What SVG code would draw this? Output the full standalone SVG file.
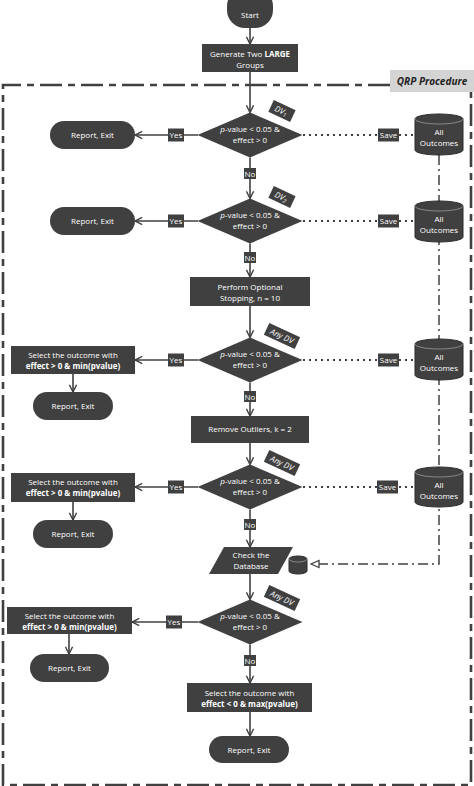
<svg xmlns="http://www.w3.org/2000/svg" width="474" height="786" viewBox="0 0 474 786">
<style>
.n{fill:#404040}
.t{font-family:"Open Sans","Liberation Sans",sans-serif;font-size:8px;fill:#fff;text-anchor:middle}
.b{font-weight:bold}
.i{font-style:italic}
.e{stroke:#404040;stroke-width:1.6;fill:none}
.dot{stroke:#404040;stroke-width:2;stroke-dasharray:2 4;fill:none}
.dd{stroke:#404040;stroke-width:1.5;stroke-dasharray:10 4 2 4;fill:none}
.cyl{fill:#404040;stroke:#2a2a2a;stroke-width:1}
.cylt{fill:none;stroke:#9a9a9a;stroke-width:0.8}
</style>
<defs>
<marker id="ah" viewBox="0 0 10 10" refX="9" refY="5" markerWidth="9" markerHeight="9" orient="auto" markerUnits="userSpaceOnUse"><path d="M1,1 L9,5 L1,9" fill="none" stroke="#404040" stroke-width="1.6"/></marker>
<marker id="tri" viewBox="0 0 10 10" refX="9" refY="5" markerWidth="10" markerHeight="10" orient="auto" markerUnits="userSpaceOnUse"><path d="M1,1.5 L9,5 L1,8.5 Z" fill="#fff" stroke="#404040" stroke-width="1.3"/></marker>
</defs>
<rect width="474" height="786" fill="#fff"/>

<g id="frame">
<path d="M390,85 H3 V785 H471 V92" fill="none" stroke="#404040" stroke-width="2.6" stroke-dasharray="22 6 7 6"/>
<rect x="390" y="70" width="84" height="22" fill="#d4d4d4"/>
<text x="432" y="85" style="font-family:'Open Sans','Liberation Sans',sans-serif;font-size:10px;font-weight:bold;font-style:italic;fill:#222;text-anchor:middle">QRP Procedure</text>
</g>

<g id="connectors">
<path class="dd" d="M439,155 V564 H311" marker-end="url(#tri)"/>
<line class="e" x1="250" y1="28" x2="250" y2="44" marker-end="url(#ah)"/>
<line class="e" x1="250" y1="72" x2="250" y2="112.5" marker-end="url(#ah)"/>
<line class="e" x1="250" y1="157.5" x2="250" y2="198.5" marker-end="url(#ah)"/>
<line class="e" x1="250" y1="243.5" x2="250" y2="277" marker-end="url(#ah)"/>
<line class="e" x1="250" y1="306" x2="250" y2="337.5" marker-end="url(#ah)"/>
<line class="e" x1="250" y1="382.5" x2="250" y2="416" marker-end="url(#ah)"/>
<line class="e" x1="250" y1="443" x2="250" y2="464.5" marker-end="url(#ah)"/>
<line class="e" x1="250" y1="509.5" x2="250" y2="547" marker-end="url(#ah)"/>
<line class="e" x1="250" y1="574" x2="250" y2="599.5" marker-end="url(#ah)"/>
<line class="e" x1="250" y1="644.5" x2="250" y2="683" marker-end="url(#ah)"/>
<line class="e" x1="250" y1="712" x2="250" y2="736" marker-end="url(#ah)"/>
<line class="e" x1="198" y1="135" x2="135" y2="135" marker-end="url(#ah)"/>
<line class="e" x1="198" y1="221" x2="135" y2="221" marker-end="url(#ah)"/>
<line class="e" x1="198" y1="360" x2="135" y2="360" marker-end="url(#ah)"/>
<line class="e" x1="198" y1="487" x2="135" y2="487" marker-end="url(#ah)"/>
<line class="e" x1="198" y1="622" x2="132" y2="622" marker-end="url(#ah)"/>
<line class="e" x1="73" y1="374" x2="73" y2="392" marker-end="url(#ah)"/>
<line class="e" x1="73" y1="502" x2="73" y2="520" marker-end="url(#ah)"/>
<line class="e" x1="69" y1="634" x2="69" y2="654" marker-end="url(#ah)"/>
<line class="dot" x1="303" y1="135" x2="415" y2="135"/>
<line class="dot" x1="303" y1="221" x2="415" y2="221"/>
<line class="dot" x1="303" y1="360" x2="415" y2="360"/>
<line class="dot" x1="303" y1="487" x2="415" y2="487"/>
<g id="labels">
<rect class="n" x="244" y="168" width="12" height="11"/><text class="t" x="250" y="176.5" font-size="7.5">No</text>
<rect class="n" x="244" y="252" width="12" height="11"/><text class="t" x="250" y="260.5" font-size="7.5">No</text>
<rect class="n" x="244" y="391" width="12" height="11"/><text class="t" x="250" y="399.5" font-size="7.5">No</text>
<rect class="n" x="244" y="519" width="12" height="11"/><text class="t" x="250" y="527.5" font-size="7.5">No</text>
<rect class="n" x="244" y="655" width="12" height="11"/><text class="t" x="250" y="663.5" font-size="7.5">No</text>
<rect class="n" x="168" y="128.5" width="16" height="13"/><text class="t" x="176" y="138" font-size="7.5">Yes</text>
<rect class="n" x="168" y="214.5" width="16" height="13"/><text class="t" x="176" y="224" font-size="7.5">Yes</text>
<rect class="n" x="168" y="353.5" width="16" height="13"/><text class="t" x="176" y="363" font-size="7.5">Yes</text>
<rect class="n" x="168" y="480.5" width="16" height="13"/><text class="t" x="176" y="490" font-size="7.5">Yes</text>
<rect class="n" x="166" y="615.5" width="16" height="13"/><text class="t" x="174" y="625" font-size="7.5">Yes</text>
<rect class="n" x="378" y="128.5" width="21" height="13"/><text class="t" x="388.5" y="138" font-size="7.5">Save</text>
<rect class="n" x="378" y="214.5" width="21" height="13"/><text class="t" x="388.5" y="224" font-size="7.5">Save</text>
<rect class="n" x="378" y="353.5" width="21" height="13"/><text class="t" x="388.5" y="363" font-size="7.5">Save</text>
<rect class="n" x="377" y="480.5" width="21" height="13"/><text class="t" x="387.5" y="490" font-size="7.5">Save</text>
</g>
</g>

<g id="start"><rect class="n" x="227" y="-12" width="46" height="40" rx="18"/><text class="t" x="250" y="18">Start</text></g>
<g id="generate"><rect class="n" x="202" y="44" width="96" height="28"/><text class="t" x="250" y="57">Generate Two <tspan class="b">LARGE</tspan></text><text class="t" x="250" y="68">Groups</text></g>

<g id="d1"><polygon class="n" points="250,112.5 302.5,135 250,157.5 197.5,135"/><text class="t" x="250" y="132"><tspan class="i">p</tspan>-value &lt; 0.05 &amp;</text><text class="t" x="250" y="143">effect &gt; 0</text>
<g transform="translate(282,111) rotate(25)"><rect class="n" x="-12" y="-6.5" width="24" height="13"/><text class="t i" x="-1" y="3">DV<tspan font-size="5.5" dy="1.5">1</tspan></text></g></g>
<g id="d2"><polygon class="n" points="250,198.5 302.5,221 250,243.5 197.5,221"/><text class="t" x="250" y="218"><tspan class="i">p</tspan>-value &lt; 0.05 &amp;</text><text class="t" x="250" y="229">effect &gt; 0</text>
<g transform="translate(282,197) rotate(25)"><rect class="n" x="-12" y="-6.5" width="24" height="13"/><text class="t i" x="-1" y="3">DV<tspan font-size="5.5" dy="1.5">2</tspan></text></g></g>
<g id="d3"><polygon class="n" points="250,337.5 302.5,360 250,382.5 197.5,360"/><text class="t" x="250" y="357"><tspan class="i">p</tspan>-value &lt; 0.05 &amp;</text><text class="t" x="250" y="368">effect &gt; 0</text>
<g transform="translate(282,336) rotate(25)"><rect class="n" x="-17" y="-6.5" width="34" height="13"/><text class="t i" x="0" y="3">Any DV</text></g></g>
<g id="d4"><polygon class="n" points="250,464.5 302.5,487 250,509.5 197.5,487"/><text class="t" x="250" y="484"><tspan class="i">p</tspan>-value &lt; 0.05 &amp;</text><text class="t" x="250" y="495">effect &gt; 0</text>
<g transform="translate(282,463) rotate(25)"><rect class="n" x="-17" y="-6.5" width="34" height="13"/><text class="t i" x="0" y="3">Any DV</text></g></g>
<g id="d5"><polygon class="n" points="250,599.5 302.5,622 250,644.5 197.5,622"/><text class="t" x="250" y="619"><tspan class="i">p</tspan>-value &lt; 0.05 &amp;</text><text class="t" x="250" y="630">effect &gt; 0</text>
<g transform="translate(282,598) rotate(25)"><rect class="n" x="-17" y="-6.5" width="34" height="13"/><text class="t i" x="0" y="3">Any DV</text></g></g>

<g id="optional"><rect class="n" x="190" y="277" width="120" height="29"/><text class="t" x="250" y="290">Perform Optional</text><text class="t" x="250" y="301">Stopping, n = 10</text></g>
<g id="outliers"><rect class="n" x="191" y="416" width="118" height="27"/><text class="t" x="250" y="432">Remove Outliers, k = 2</text></g>
<g id="check"><polygon class="n" points="224,547 293,547 278,574 209,574"/><text class="t" x="251" y="558">Check the</text><text class="t" x="251" y="569">Database</text>
<path class="cyl" d="M289,559 a9,3 0 0 1 18,0 v12 a9,3 0 0 1 -18,0 Z"/><path class="cylt" d="M289,559 a9,3 0 0 0 18,0"/></g>
<g id="selectmax"><rect class="n" x="187" y="683" width="125" height="29"/><text class="t" x="249.5" y="696">Select the outcome with</text><text class="t b" x="249.5" y="707">effect &lt; 0 &amp; max(pvalue)</text></g>
<g id="report6"><rect class="n" x="209" y="736" width="80" height="27" rx="13.5"/><text class="t" x="249" y="752.5">Report, Exit</text></g>

<g id="report1"><rect class="n" x="50" y="121" width="85" height="28" rx="14"/><text class="t" x="92.5" y="138">Report, Exit</text></g>
<g id="report2"><rect class="n" x="50" y="207" width="85" height="28" rx="14"/><text class="t" x="92.5" y="224">Report, Exit</text></g>
<g id="select3"><rect class="n" x="11" y="346" width="124" height="28"/><text class="t" x="73" y="358">Select the outcome with</text><text class="t b" x="73" y="369">effect &gt; 0 &amp; min(pvalue)</text></g>
<g id="report3"><rect class="n" x="33" y="392" width="80" height="28" rx="14"/><text class="t" x="73" y="409">Report, Exit</text></g>
<g id="select4"><rect class="n" x="11" y="473" width="124" height="29"/><text class="t" x="73" y="485">Select the outcome with</text><text class="t b" x="73" y="496">effect &gt; 0 &amp; min(pvalue)</text></g>
<g id="report4"><rect class="n" x="33" y="520" width="80" height="28" rx="14"/><text class="t" x="73" y="537">Report, Exit</text></g>
<g id="select5"><rect class="n" x="7" y="607" width="125" height="27"/><text class="t" x="69.5" y="619">Select the outcome with</text><text class="t b" x="69.5" y="630">effect &gt; 0 &amp; min(pvalue)</text></g>
<g id="report5"><rect class="n" x="30" y="654" width="79" height="28" rx="14"/><text class="t" x="69.5" y="671">Report, Exit</text></g>

<g id="cyl1"><path class="cyl" d="M415,119 a24,5 0 0 1 48,0 v31 a24,5 0 0 1 -48,0 Z"/><path class="cylt" d="M415,119 a24,5 0 0 0 48,0"/><text class="t" x="439" y="135">All</text><text class="t" x="439" y="146">Outcomes</text></g>
<g id="cyl2"><path class="cyl" d="M415,206 a24,5 0 0 1 48,0 v31 a24,5 0 0 1 -48,0 Z"/><path class="cylt" d="M415,206 a24,5 0 0 0 48,0"/><text class="t" x="439" y="222">All</text><text class="t" x="439" y="233">Outcomes</text></g>
<g id="cyl3"><path class="cyl" d="M415,344 a24,5 0 0 1 48,0 v31 a24,5 0 0 1 -48,0 Z"/><path class="cylt" d="M415,344 a24,5 0 0 0 48,0"/><text class="t" x="439" y="360">All</text><text class="t" x="439" y="371">Outcomes</text></g>
<g id="cyl4"><path class="cyl" d="M415,472 a24,5 0 0 1 48,0 v30 a24,5 0 0 1 -48,0 Z"/><path class="cylt" d="M415,472 a24,5 0 0 0 48,0"/><text class="t" x="439" y="488">All</text><text class="t" x="439" y="499">Outcomes</text></g>
</svg>
